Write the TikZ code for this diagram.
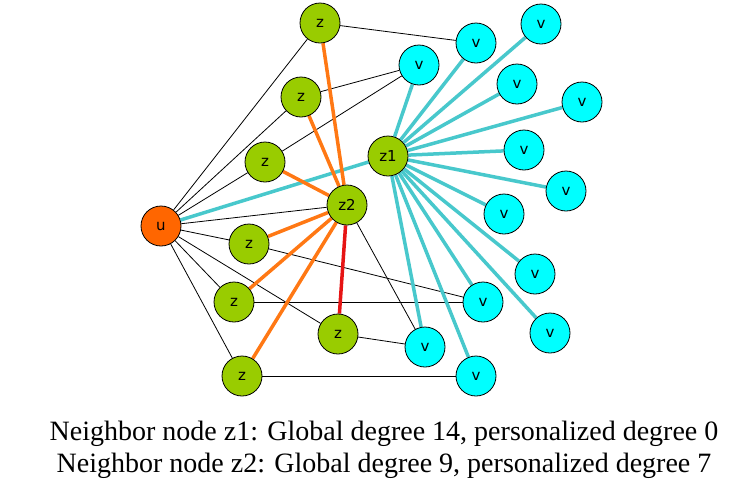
\documentclass[tikz,border=0pt]{standalone}
\usepackage{fontspec}
\setmainfont{Liberation Serif}
\newfontfamily\nodefont{DejaVu Sans}
\begin{document}
\begin{tikzpicture}[x=1pt,y=-1pt,
  nd/.style={circle,draw=black,line width=0.8pt,minimum size=40pt,inner sep=0pt,font=\nodefont\fontsize{15}{15}\selectfont},
  zn/.style={nd,fill={rgb,255:red,153;green,204;blue,0}},
  vn/.style={nd,fill={rgb,255:red,0;green,255;blue,255}},
  bl/.style={black,line width=0.8pt},
  cy/.style={line width=3.5pt,draw={rgb,255:red,72;green,200;blue,204}},
  orr/.style={line width=3.5pt,draw={rgb,255:red,255;green,120;blue,20}},
  rd/.style={line width=3.5pt,draw={rgb,255:red,230;green,20;blue,20}},
  captxt/.style={font=\fontsize{28}{28}\selectfont}]
\useasboundingbox (0,0) rectangle (745,488);
\pgfdeclarelayer{bg}\pgfsetlayers{bg,main}
\node[nd,fill={rgb,255:red,255;green,102;blue,0}] (u) at (161,226) {u};
\node[zn] (zt) at (320,23) {z};
\node[zn] (za) at (301,97) {z};
\node[zn] (zb) at (265,162) {z};
\node[zn] (z2) at (347,205) {z2};
\node[zn] (z1) at (388,156) {z1};
\node[zn] (zc) at (249,244) {z};
\node[zn] (zd) at (234,302) {z};
\node[zn] (ze) at (338,334) {z};
\node[zn] (zf) at (242,376) {z};
\foreach \n/\x/\y in {v1/476/43,v2/419/65,v3/541/24,v4/517/84,v5/582/102,v6/524/150,v7/566/191,v8/504/214,v9/535/274,v10/483/302,v11/550/333,v12/425/347,v13/476/376}
  \node[vn] (\n) at (\x,\y) {v};
\begin{pgfonlayer}{bg}
\foreach \a in {zt,za,zb,z2,zc,zd,ze,zf} \draw[bl] (u) -- (\a);
\draw[bl] (zt) -- (v1); \draw[bl] (za) -- (v2); \draw[bl] (zb) -- (v2);
\draw[bl] (zc) -- (v10); \draw[bl] (zd) -- (v10); \draw[bl] (ze) -- (v12);
\draw[bl] (zf) -- (v13); \draw[bl] (z2) -- (v12);
\draw[cy] (u) -- (z1);
\foreach \a in {v1,v2,v3,v4,v5,v6,v7,v8,v9,v10,v11,v12,v13} \draw[cy] (z1) -- (\a);
\foreach \a in {zt,za,zb,zc,zd,zf} \draw[orr] (z2) -- (\a);
\draw[rd] (z2) -- (ze);
\end{pgfonlayer}
\node[captxt] (t1) at (384,434) {Neighbor node z1: Global degree 14, personalized degree 0};
\node[captxt] (t2) at (384,466) {Neighbor node z2: Global degree 9, personalized degree 7};
\end{tikzpicture}
\end{document}
